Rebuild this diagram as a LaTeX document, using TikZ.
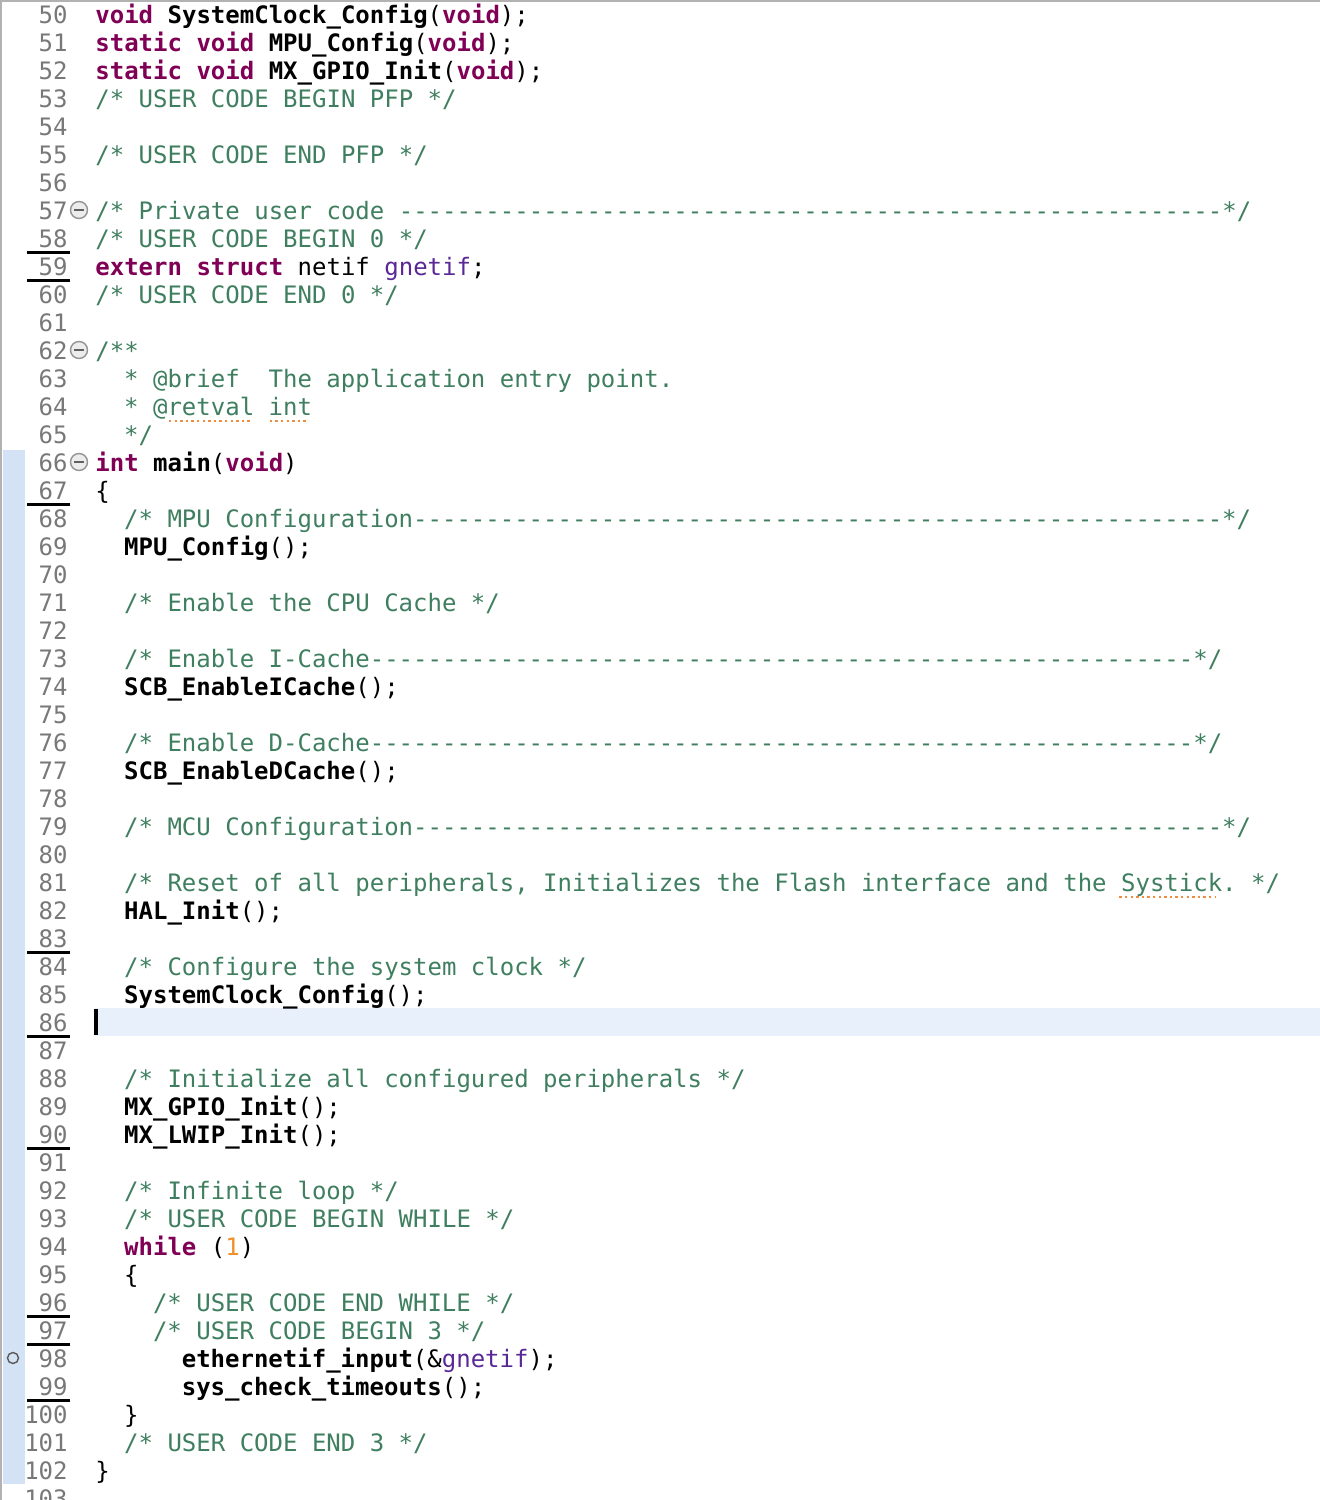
\documentclass[tikz,border=0pt]{standalone}
\usepackage{fontspec}
\setmonofont{DejaVu Sans Mono}
\definecolor{kwcolor}{HTML}{7F0055}
\definecolor{cmcolor}{HTML}{3F7F5F}
\definecolor{vrcolor}{HTML}{5A2896}
\definecolor{nmcolor}{HTML}{F0902A}
\definecolor{lncolor}{HTML}{787878}
\definecolor{curline}{HTML}{E8F0FB}
\definecolor{gutterblue}{HTML}{D4E2F6}
\definecolor{spellcolor}{HTML}{F08C3C}
\newcommand\kw[1]{\textcolor{kwcolor}{\bfseries #1}}
\newcommand\cm[1]{\textcolor{cmcolor}{#1}}
\newcommand\fn[1]{\textbf{#1}}
\newcommand\vr[1]{\textcolor{vrcolor}{#1}}
\newcommand\nm[1]{\textcolor{nmcolor}{#1}}
\newcommand\dashes[1]{\foreach\i in {1,...,#1}{-}}
% one line of code: line number, column, text
\newcommand\cl[3]{\node[code] (l#1) at ({95+14.4*#2},{14+28*(#1-50)+9}) {#3};}
\tikzset{
  code/.style={anchor=base west, inner sep=0pt, font=\ttfamily\fontsize{12}{14}\selectfont},
  linenum/.style={anchor=base east, inner sep=0pt, text=lncolor, font=\ttfamily\fontsize{12}{14}\selectfont},
  changebar/.style={line width=1.5pt, black},
  foldicon/.style={circle, draw=lncolor!80, fill=gray!15, line width=0.7pt, minimum size=8.5pt, inner sep=0pt},
  squiggle/.style={draw=spellcolor, line width=1.3pt, dash pattern=on 1.2pt off 1.6pt}
}
\begin{document}
\begin{tikzpicture}[x=0.5pt,y=-0.5pt]
\useasboundingbox (0,0) rectangle (1320,1500);
\begin{scope}
\clip (0,0) rectangle (1320,1500);
\fill[white] (0,0) rectangle (1320,1500);
\draw[gray!60, line width=1pt] (1320,1) -- (1,1) -- (1,1500);
% gutter of changes
\fill[gutterblue] (3,450) rectangle (25,1484);
% current line
\fill[curline] (95,1008) rectangle (1320,1036);
\fill[black] (94,1009) rectangle (98,1035);
% line numbers
\foreach \n in {50,...,103} \node[linenum] (n\n) at (68,{14+28*(\n-50)+9}) {\n};
% change bars
\foreach \n in {58,59,67,83,86,90,96,97,99} \draw[changebar] (27,{28*(\n-50)+28}) -- (70,{28*(\n-50)+28});
% fold icons
\foreach \n in {57,62,66} {
  \node[foldicon] (f\n) at (79,{14+28*(\n-50)}) {};
  \draw[lncolor!80!black, line width=1pt] ([xshift=-2.4pt]f\n.center) -- ([xshift=2.4pt]f\n.center);
}
\node[circle, draw=gray!70!black, line width=0.7pt, minimum size=5.5pt, inner sep=0pt] (bp) at (13,1358) {};
% code
\cl{50}{0}{\kw{void} \fn{SystemClock\_Config}(\kw{void});}
\cl{51}{0}{\kw{static} \kw{void} \fn{MPU\_Config}(\kw{void});}
\cl{52}{0}{\kw{static} \kw{void} \fn{MX\_GPIO\_Init}(\kw{void});}
\cl{53}{0}{\cm{/* USER CODE BEGIN PFP */}}
\cl{55}{0}{\cm{/* USER CODE END PFP */}}
\cl{57}{0}{\cm{/* Private user code \dashes{57}*/}}
\cl{58}{0}{\cm{/* USER CODE BEGIN 0 */}}
\cl{59}{0}{\kw{extern} \kw{struct} netif \vr{gnetif};}
\cl{60}{0}{\cm{/* USER CODE END 0 */}}
\cl{62}{0}{\cm{/**}}
\cl{63}{2}{\cm{* @brief\ \ The application entry point.}}
\cl{64}{2}{\cm{* @retval int}}
\cl{65}{2}{\cm{*/}}
\cl{66}{0}{\kw{int} \fn{main}(\kw{void})}
\cl{67}{0}{\{}
\cl{68}{2}{\cm{/* MPU Configuration\dashes{56}*/}}
\cl{69}{2}{\fn{MPU\_Config}();}
\cl{71}{2}{\cm{/* Enable the CPU Cache */}}
\cl{73}{2}{\cm{/* Enable I-Cache\dashes{57}*/}}
\cl{74}{2}{\fn{SCB\_EnableICache}();}
\cl{76}{2}{\cm{/* Enable D-Cache\dashes{57}*/}}
\cl{77}{2}{\fn{SCB\_EnableDCache}();}
\cl{79}{2}{\cm{/* MCU Configuration\dashes{56}*/}}
\cl{81}{2}{\cm{/* Reset of all peripherals, Initializes the Flash interface and the Systick. */}}
\cl{82}{2}{\fn{HAL\_Init}();}
\cl{84}{2}{\cm{/* Configure the system clock */}}
\cl{85}{2}{\fn{SystemClock\_Config}();}
\cl{88}{2}{\cm{/* Initialize all configured peripherals */}}
\cl{89}{2}{\fn{MX\_GPIO\_Init}();}
\cl{90}{2}{\fn{MX\_LWIP\_Init}();}
\cl{92}{2}{\cm{/* Infinite loop */}}
\cl{93}{2}{\cm{/* USER CODE BEGIN WHILE */}}
\cl{94}{2}{\kw{while} (\nm{1})}
\cl{95}{2}{\{}
\cl{96}{4}{\cm{/* USER CODE END WHILE */}}
\cl{97}{4}{\cm{/* USER CODE BEGIN 3 */}}
\cl{98}{6}{\fn{ethernetif\_input}(\&\vr{gnetif});}
\cl{99}{6}{\fn{sys\_check\_timeouts}();}
\cl{100}{2}{\}}
\cl{101}{2}{\cm{/* USER CODE END 3 */}}
\cl{102}{0}{\}}
% spelling marks
\draw[squiggle] ({95+14.4*5+2},{14+28*14+15}) -- ({95+14.4*11-2},{14+28*14+15});
\draw[squiggle] ({95+14.4*12+2},{14+28*14+15}) -- ({95+14.4*15-2},{14+28*14+15});
\draw[squiggle] ({95+14.4*71+2},{14+28*31+15}) -- ({95+14.4*78-2},{14+28*31+15});
\end{scope}
\end{tikzpicture}
\end{document}
